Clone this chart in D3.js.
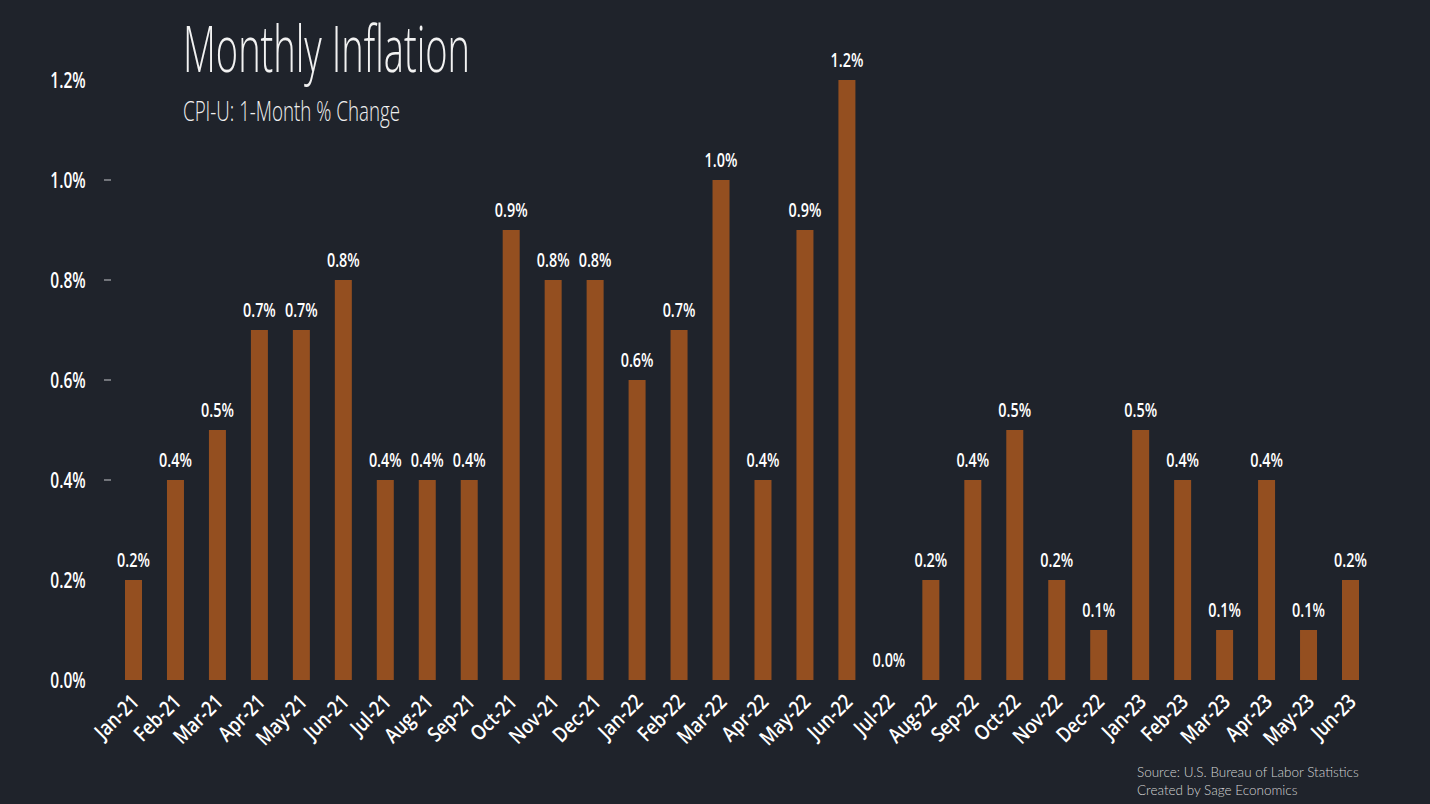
<!DOCTYPE html>
<html>
<head>
<meta charset="utf-8">
<script src="https://cdn.jsdelivr.net/npm/d3@7"></script>
<style>
  html, body { margin: 0; padding: 0; background: #1f232b; }
  svg { display: block; }
</style>
</head>
<body>
<svg id="chart" width="1430" height="804"></svg>
<script>
const months = ["Jan-21","Feb-21","Mar-21","Apr-21","May-21","Jun-21","Jul-21","Aug-21","Sep-21","Oct-21","Nov-21","Dec-21",
                "Jan-22","Feb-22","Mar-22","Apr-22","May-22","Jun-22","Jul-22","Aug-22","Sep-22","Oct-22","Nov-22","Dec-22",
                "Jan-23","Feb-23","Mar-23","Apr-23","May-23","Jun-23"];
const values = [0.2,0.4,0.5,0.7,0.7,0.8,0.4,0.4,0.4,0.9,0.8,0.8,
                0.6,0.7,1.0,0.4,0.9,1.2,0.0,0.2,0.4,0.5,0.2,0.1,
                0.5,0.4,0.1,0.4,0.1,0.2];
const yTicks = [0.0,0.2,0.4,0.6,0.8,1.0,1.2];
const yTickMarks = [0.4,0.6,0.8,1.0];
const titleText = "Monthly Inflation";
const subtitleText = "CPI-U: 1-Month % Change";
const sourceLines = ["Source: U.S. Bureau of Labor Statistics","Created by Sage Economics"];

const svg = d3.select("#chart");
svg.append("rect").attr("width",1430).attr("height",804).attr("fill","#1f232b");

const x = d3.scalePoint().domain(months).range([133.5, 1350.5]);
const y = d3.scaleLinear().domain([0, 1.2]).range([680, 80]);
const barW = 17;
const fmt = d => d.toFixed(1) + "%";

// bars
svg.append("g").selectAll("rect").data(values).join("rect")
  .attr("x", (d,i) => x(months[i]) - barW/2)
  .attr("y", d => y(d))
  .attr("width", barW)
  .attr("height", d => y(0) - y(d))
  .attr("fill", "#944f20");

// value labels
svg.append("g").selectAll("text").data(values).join("text")
  .attr("transform", (d,i) => `translate(${x(months[i])},${y(d) - 13}) scale(0.72,1)`)
  .attr("text-anchor", "middle")
  .attr("font-family", "Open Sans")
  .attr("font-weight", 600)
  .attr("font-size", 20)
  .attr("fill", "#ffffff")
  .text(fmt);

// y axis labels
svg.append("g").selectAll("text").data(yTicks).join("text")
  .attr("transform", d => `translate(68,${y(d) + 7.5}) scale(0.74,1)`)
  .attr("text-anchor", "middle")
  .attr("font-family", "Open Sans")
  .attr("font-weight", 600)
  .attr("font-size", 21)
  .attr("fill", "#ffffff")
  .text(fmt);

// y tick marks
svg.append("g").selectAll("line").data(yTickMarks).join("line")
  .attr("x1", 104).attr("x2", 111)
  .attr("y1", d => y(d)).attr("y2", d => y(d))
  .attr("stroke", "#a8abb0").attr("stroke-width", 1.2);

// x labels
svg.append("g").selectAll("text").data(months).join("text")
  .attr("transform", d => `translate(${x(d) + 7},${703}) rotate(-45) scale(0.84,1)`)
  .attr("text-anchor", "end")
  .attr("font-family", "Open Sans")
  .attr("font-weight", 600)
  .attr("font-size", 21)
  .attr("fill", "#ffffff")
  .text(d => d);

// title
svg.append("text")
  .attr("x", 183).attr("y", 72)
  .attr("font-family", "Open Sans")
  .attr("font-weight", 300)
  .attr("font-size", 64)
  .attr("textLength", 287).attr("lengthAdjust", "spacingAndGlyphs")
  .attr("fill", "#f2f2f2")
  .text(titleText);

svg.append("text")
  .attr("x", 183).attr("y", 121)
  .attr("font-family", "Open Sans")
  .attr("font-weight", 300)
  .attr("font-size", 27)
  .attr("textLength", 217).attr("lengthAdjust", "spacingAndGlyphs")
  .attr("fill", "#f0f0f0")
  .text(subtitleText);

// source
svg.append("g").selectAll("text").data(sourceLines).join("text")
  .attr("x", 1137).attr("y", (d,i) => 777 + i*18)
  .attr("font-family", "Lato")
  .attr("font-weight", 300)
  .attr("font-size", 13.5)
  .attr("fill", "#d4d4d4")
  .text(d => d);
</script>
</body>
</html>
